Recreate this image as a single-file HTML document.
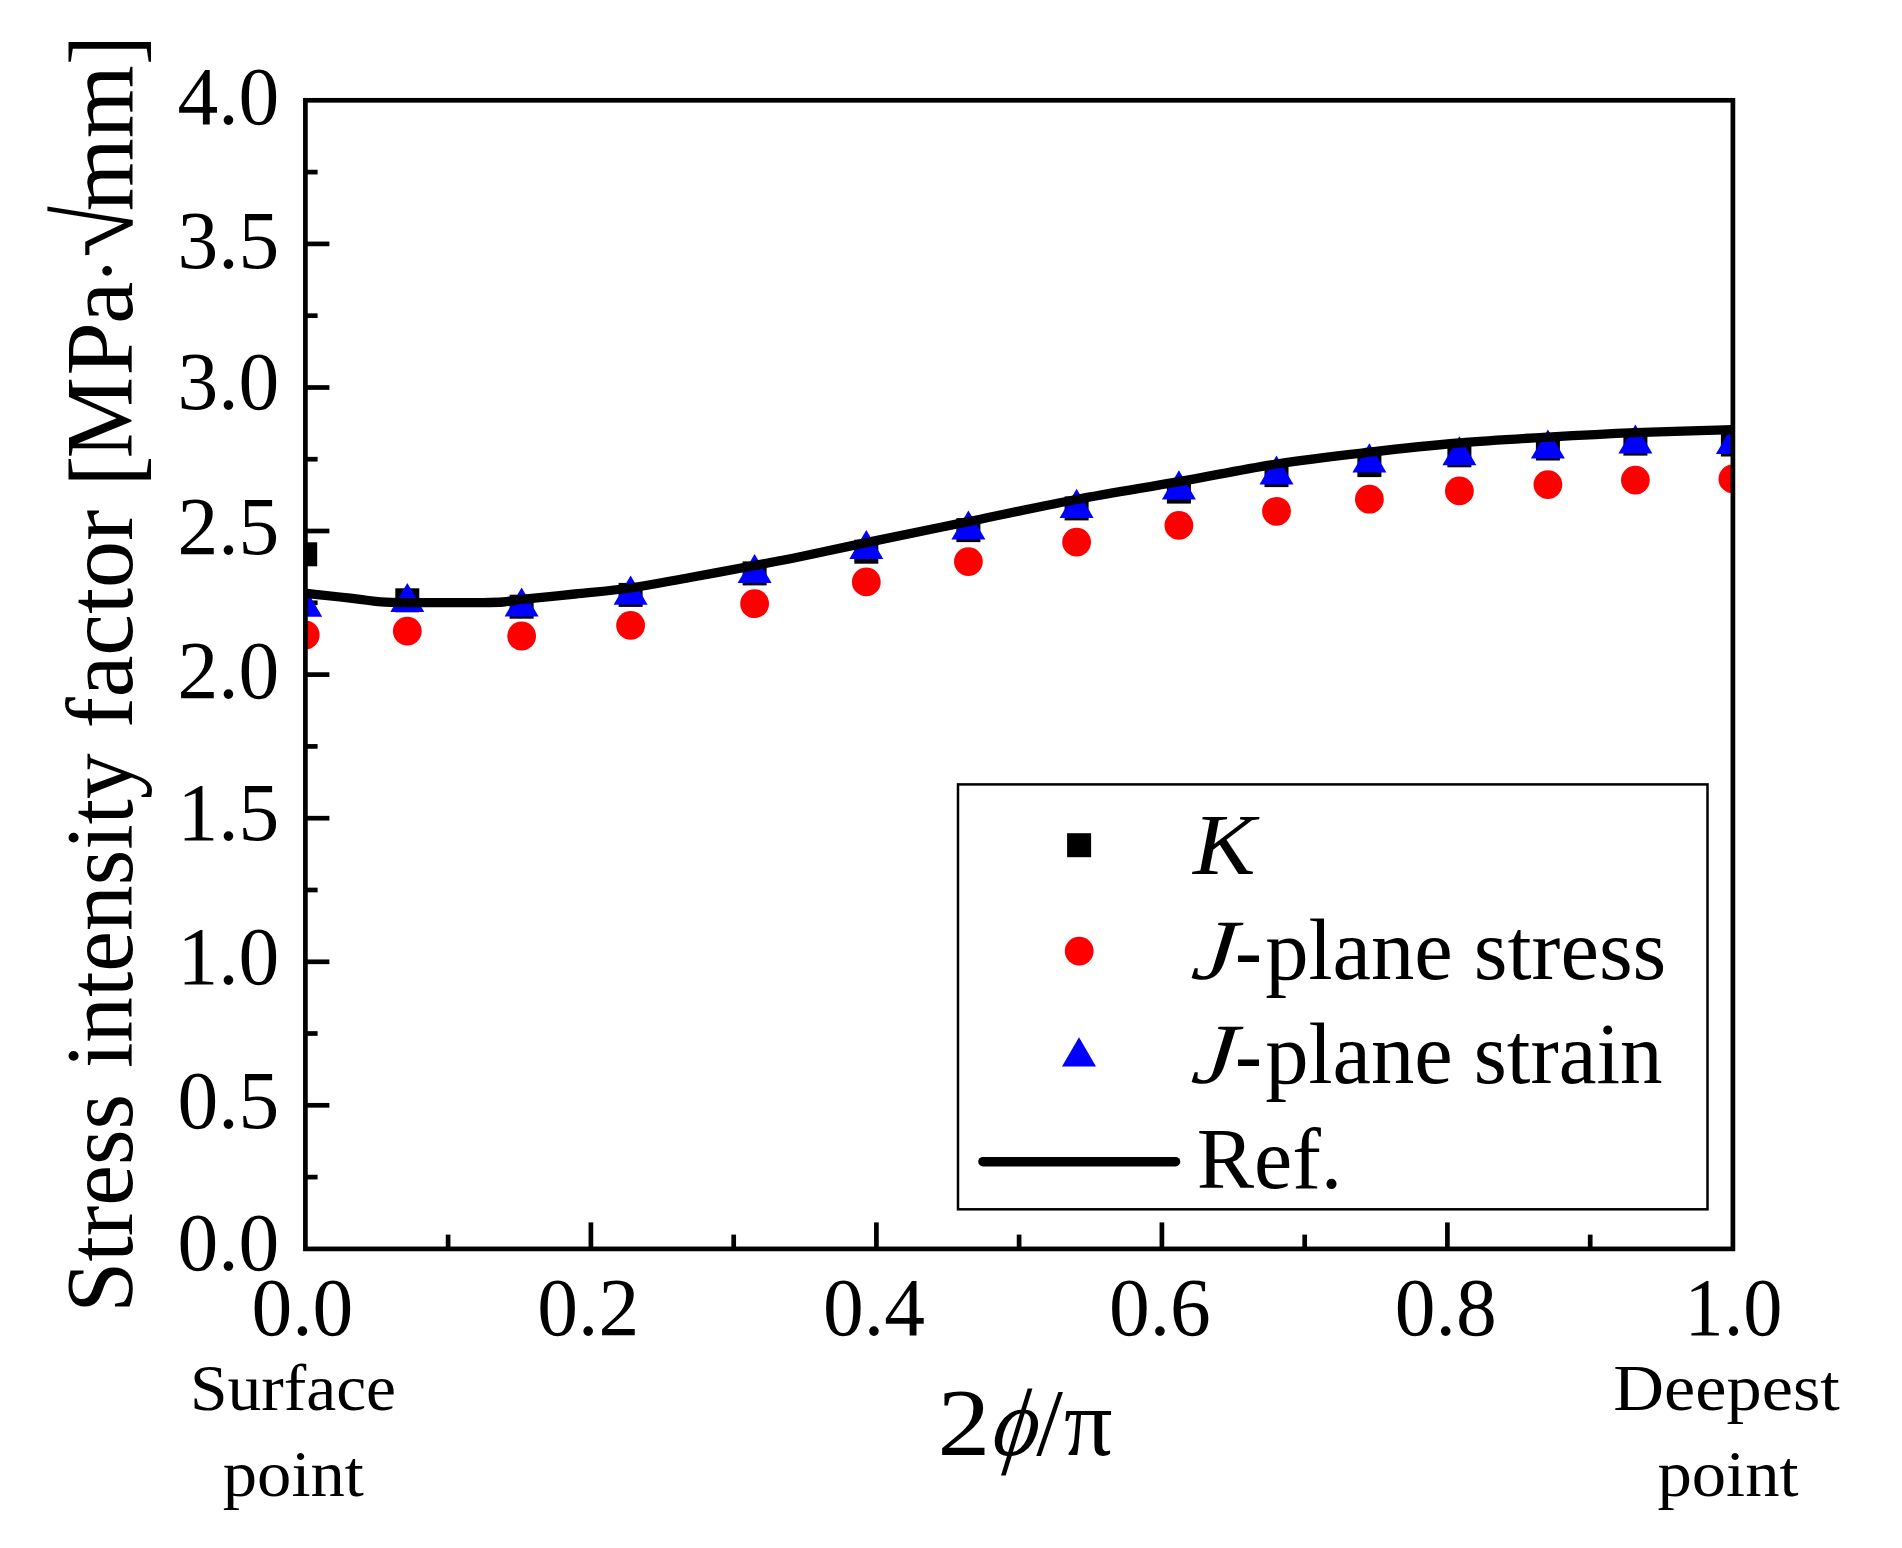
<!DOCTYPE html>
<html lang="en"><head><meta charset="utf-8"><title>Stress intensity factor</title>
<style>
html,body{margin:0;padding:0;background:#fff;}
body{width:1902px;height:1548px;overflow:hidden;}
svg{display:block;}
text{font-family:"Liberation Serif","DejaVu Serif",serif;fill:#000;}
.tk{font-size:81.5px;}
.an{font-size:66px;}
.lg{font-size:86px;}
.ti{font-size:96px;}
.i{font-style:italic;}
</style></head><body>
<svg width="1902" height="1548" viewBox="0 0 1902 1548">
<rect x="0" y="0" width="1902" height="1548" fill="#fff"/>
<defs><clipPath id="pc"><rect x="305.4" y="100.3" width="1427.5" height="1148.6"/></clipPath></defs>
<g stroke="#000" stroke-width="4.7" fill="none">
<line x1="305.4" y1="1177.1" x2="317.6" y2="1177.1"/>
<line x1="305.4" y1="1105.3" x2="329.4" y2="1105.3"/>
<line x1="305.4" y1="1033.5" x2="317.6" y2="1033.5"/>
<line x1="305.4" y1="961.8" x2="329.4" y2="961.8"/>
<line x1="305.4" y1="890.0" x2="317.6" y2="890.0"/>
<line x1="305.4" y1="818.2" x2="329.4" y2="818.2"/>
<line x1="305.4" y1="746.4" x2="317.6" y2="746.4"/>
<line x1="305.4" y1="674.6" x2="329.4" y2="674.6"/>
<line x1="305.4" y1="602.8" x2="317.6" y2="602.8"/>
<line x1="305.4" y1="531.0" x2="329.4" y2="531.0"/>
<line x1="305.4" y1="459.2" x2="317.6" y2="459.2"/>
<line x1="305.4" y1="387.5" x2="329.4" y2="387.5"/>
<line x1="305.4" y1="315.7" x2="317.6" y2="315.7"/>
<line x1="305.4" y1="243.9" x2="329.4" y2="243.9"/>
<line x1="305.4" y1="172.1" x2="317.6" y2="172.1"/>
<line x1="448.1" y1="1248.9" x2="448.1" y2="1234.6"/>
<line x1="590.9" y1="1248.9" x2="590.9" y2="1222.4"/>
<line x1="733.7" y1="1248.9" x2="733.7" y2="1234.6"/>
<line x1="876.4" y1="1248.9" x2="876.4" y2="1222.4"/>
<line x1="1019.1" y1="1248.9" x2="1019.1" y2="1234.6"/>
<line x1="1161.9" y1="1248.9" x2="1161.9" y2="1222.4"/>
<line x1="1304.7" y1="1248.9" x2="1304.7" y2="1234.6"/>
<line x1="1447.4" y1="1248.9" x2="1447.4" y2="1222.4"/>
<line x1="1590.2" y1="1248.9" x2="1590.2" y2="1234.6"/>
</g>
<g clip-path="url(#pc)">
<g fill="#000">
<rect x="293.2" y="542.3" width="24.0" height="24.0"/>
<rect x="395.3" y="588.3" width="24.0" height="24.0"/>
<rect x="509.6" y="594.7" width="24.0" height="24.0"/>
<rect x="618.6" y="582.9" width="24.0" height="24.0"/>
<rect x="742.6" y="561.4" width="24.0" height="24.0"/>
<rect x="854.3" y="539.7" width="24.0" height="24.0"/>
<rect x="956.4" y="518.1" width="24.0" height="24.0"/>
<rect x="1064.6" y="496.4" width="24.0" height="24.0"/>
<rect x="1166.9" y="479.6" width="24.0" height="24.0"/>
<rect x="1264.5" y="463.1" width="24.0" height="24.0"/>
<rect x="1357.4" y="453.1" width="24.0" height="24.0"/>
<rect x="1447.4" y="443.3" width="24.0" height="24.0"/>
<rect x="1535.9" y="436.5" width="24.0" height="24.0"/>
<rect x="1623.4" y="431.6" width="24.0" height="24.0"/>
<rect x="1720.9" y="432.5" width="24.0" height="24.0"/>
</g><g fill="#f00">
<circle cx="305.2" cy="635.0" r="14.4"/>
<circle cx="407.3" cy="631.1" r="14.4"/>
<circle cx="521.6" cy="636.0" r="14.4"/>
<circle cx="630.6" cy="625.4" r="14.4"/>
<circle cx="754.6" cy="603.7" r="14.4"/>
<circle cx="866.3" cy="581.9" r="14.4"/>
<circle cx="968.4" cy="561.6" r="14.4"/>
<circle cx="1076.6" cy="542.1" r="14.4"/>
<circle cx="1178.9" cy="525.4" r="14.4"/>
<circle cx="1276.5" cy="511.3" r="14.4"/>
<circle cx="1369.4" cy="499.2" r="14.4"/>
<circle cx="1459.4" cy="490.9" r="14.4"/>
<circle cx="1547.9" cy="484.6" r="14.4"/>
<circle cx="1635.4" cy="480.1" r="14.4"/>
<circle cx="1732.9" cy="478.9" r="14.4"/>
</g><g fill="#00f">
<polygon points="288.2,616.8 322.2,616.8 305.2,587.7"/>
<polygon points="390.3,612.0 424.3,612.0 407.3,582.9"/>
<polygon points="504.6,616.5 538.6,616.5 521.6,587.4"/>
<polygon points="613.6,604.7 647.6,604.7 630.6,575.6"/>
<polygon points="737.6,583.0 771.6,583.0 754.6,553.9"/>
<polygon points="849.3,559.1 883.3,559.1 866.3,530.0"/>
<polygon points="951.4,539.6 985.4,539.6 968.4,510.5"/>
<polygon points="1059.6,517.9 1093.6,517.9 1076.6,488.8"/>
<polygon points="1161.9,499.4 1195.9,499.4 1178.9,470.3"/>
<polygon points="1259.5,484.5 1293.5,484.5 1276.5,455.4"/>
<polygon points="1352.4,472.4 1386.4,472.4 1369.4,443.3"/>
<polygon points="1442.4,465.3 1476.4,465.3 1459.4,436.2"/>
<polygon points="1530.9,458.5 1564.9,458.5 1547.9,429.4"/>
<polygon points="1618.4,453.6 1652.4,453.6 1635.4,424.5"/>
<polygon points="1715.9,454.0 1749.9,454.0 1732.9,424.9"/>
</g>
<path d="M303.0,593.0 C305.8,593.3 313.8,594.1 320.0,594.8 C326.2,595.5 333.0,596.2 340.0,597.0 C347.0,597.8 355.2,598.8 362.0,599.6 C368.8,600.4 373.5,601.4 381.0,601.9 C388.5,602.4 396.3,602.5 407.0,602.6 C417.7,602.7 432.8,602.6 445.0,602.6 C457.2,602.6 470.3,602.7 480.0,602.6 C489.7,602.5 496.1,602.5 503.0,602.0 C509.9,601.5 509.6,600.7 521.6,599.4 C533.6,598.1 556.8,595.9 575.0,594.0 C593.2,592.1 611.4,590.8 630.6,588.0 C649.8,585.2 669.3,581.2 690.0,577.5 C710.7,573.8 736.3,569.0 754.6,565.5 C772.9,562.0 781.4,560.5 800.0,556.7 C818.6,552.9 838.2,548.5 866.3,542.6 C894.4,536.8 933.4,528.8 968.4,521.6 C1003.4,514.4 1041.5,506.1 1076.6,499.5 C1111.7,492.9 1145.6,487.6 1178.9,481.7 C1212.2,475.8 1244.8,468.9 1276.5,464.0 C1308.2,459.1 1338.9,455.7 1369.4,452.2 C1399.9,448.7 1429.7,445.5 1459.4,443.0 C1489.2,440.5 1518.6,438.8 1547.9,437.1 C1577.2,435.4 1604.6,433.9 1635.4,432.6 C1666.2,431.4 1716.7,430.1 1733.0,429.6" fill="none" stroke="#000" stroke-width="9.3" stroke-linejoin="round"/>
</g>
<rect x="305.4" y="100.3" width="1427.5" height="1148.6" fill="none" stroke="#000" stroke-width="4.7"/>
<g class="tk" text-anchor="end">
<text x="279.3" y="1269.7">0.0</text>
<text x="279.3" y="1128.1">0.5</text>
<text x="279.3" y="984.4">1.0</text>
<text x="279.3" y="840.1">1.5</text>
<text x="279.3" y="698.1">2.0</text>
<text x="279.3" y="554.2">2.5</text>
<text x="279.3" y="409.3">3.0</text>
<text x="279.3" y="267.8">3.5</text>
<text x="279.3" y="124.0">4.0</text>
</g><g class="tk" text-anchor="middle">
<text x="302.4" y="1335.2">0.0</text>
<text x="588.2" y="1335.2">0.2</text>
<text x="874.0" y="1335.2">0.4</text>
<text x="1159.9" y="1335.2">0.6</text>
<text x="1445.7" y="1335.2">0.8</text>
<text transform="translate(1733.5,1335.2) scale(0.96,1)">1.0</text>
</g>
<g class="an" text-anchor="middle">
<text transform="translate(293,1409.6) scale(1.023,1)">Surface</text><text transform="translate(293.3,1495.7) scale(1.04,1)">point</text>
<text transform="translate(1726.6,1409.6) scale(1.066,1)">Deepest</text><text transform="translate(1728,1495.7) scale(1.04,1)">point</text>
</g>
<g class="ti">
<text transform="translate(132.0,1312.7) rotate(-90) scale(0.9545,1)" style="font-size:96px">Stress</text>
<text transform="translate(132.0,1068.1) rotate(-90) scale(0.9520,1)" style="font-size:96px">intensity</text>
<text transform="translate(132.0,728.6) rotate(-90) scale(0.9780,1)" style="font-size:96px">factor</text>
<text transform="translate(137.6,486.2) rotate(-90) scale(0.9300,1)" style="font-size:99px">[</text>
<text transform="translate(132.0,458.6) rotate(-90) scale(0.9540,1)" style="font-size:96px">M</text>
<text transform="translate(132.0,375.5) rotate(-90) scale(1.0000,1)" style="font-size:96px">P</text>
<text transform="translate(132.0,323.8) rotate(-90) scale(0.9870,1)" style="font-size:96px">a</text>
<text transform="translate(135.0,284.6) rotate(-90) scale(1.0000,1)" style="font-size:82px">·</text>
<text transform="translate(132.0,251.6) rotate(-90) scale(0.9670,1) skewX(8.07)" style="font-size:107px">√</text>
<text transform="translate(132.0,211.2) rotate(-90) scale(0.9770,1)" style="font-size:96px">mm</text>
<text transform="translate(137.6,64.9) rotate(-90) scale(0.9000,1)" style="font-size:99px">]</text>
</g>
<g class="ti"><text transform="translate(937.6,1455.3) scale(1.1,1)">2</text><text class="i" transform="translate(990.4,1455.3) scale(0.915,1) skewX(-9)">ϕ</text><text x="1036.3" y="1455.3">/</text><text x="1064" y="1455.3">π</text></g>
<rect x="958" y="784.4" width="749.5" height="424.9" fill="#fff" stroke="#000" stroke-width="2.5"/>
<rect x="1067.1" y="833.2" width="24.0" height="24.0" fill="#000"/>
<circle cx="1079.2" cy="951.1" r="14.4" fill="#f00"/>
<polygon points="1062.0,1066.4 1096.0,1066.4 1079,1037.3" fill="#00f"/>
<line x1="983" y1="1161.7" x2="1175.5" y2="1161.7" stroke="#000" stroke-width="9.6" stroke-linecap="round"/>
<g class="lg">
<text transform="translate(1193,874.2) scale(1.09,1)" class="i">K</text>
<text transform="translate(1190.1,979.3) scale(1.153,1) skewX(-5)" class="i">J</text>
<text transform="translate(1235,979.3) scale(0.94,1)">-</text>
<text transform="translate(1265.2,979.3) scale(1.007,1)">plane</text>
<text transform="translate(1473.8,979.3) scale(1.0076,1)">stress</text>
<text transform="translate(1190.1,1082.8) scale(1.153,1) skewX(-5)" class="i">J</text>
<text transform="translate(1235,1082.8) scale(0.94,1)">-</text>
<text transform="translate(1265.2,1082.8) scale(1.007,1)">plane</text>
<text transform="translate(1473.8,1082.8) scale(0.9880,1)">strain</text>
<text x="1196.7" y="1188.2">Ref.</text>
</g>
</svg></body></html>
